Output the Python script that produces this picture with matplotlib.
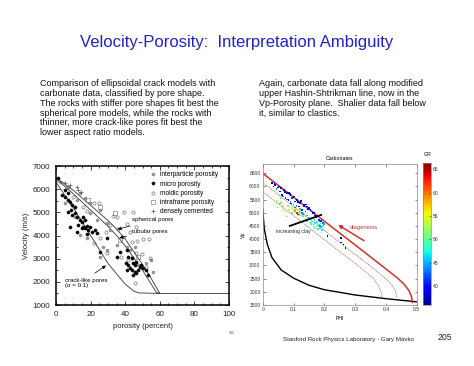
import matplotlib
matplotlib.use("Agg")
import matplotlib.pyplot as plt
import numpy as np
from matplotlib.ticker import MultipleLocator
from matplotlib.patches import FancyArrowPatch

plt.rcParams['font.family'] = ['Liberation Sans', 'DejaVu Sans']

# ---------------- Slide text ----------------
title_text = "Velocity-Porosity:  Interpretation Ambiguity"
left_para = ("Comparison of ellipsoidal crack models with\n"
             "carbonate data, classified by pore shape.\n"
             "The rocks with stiffer pore shapes fit best the\n"
             "spherical pore models, while the rocks with\n"
             "thinner, more crack-like pores fit best the\n"
             "lower aspect ratio models.")
right_para = ("Again, carbonate data fall along modified\n"
              "upper Hashin-Shtrikman line, now in the\n"
              "Vp-Porosity plane.  Shalier data fall below\n"
              "it, similar to clastics.")
footer_text = "Stanford Rock Physics Laboratory - Gary Mavko"
page_number = "205"

# ---------------- Left chart data (porosity %, velocity m/s) ----------------
sph_phi = [0, 10, 20, 30, 35, 40, 50, 55, 60, 80, 100]
sph_v = [6500, 5950, 5300, 4650, 4280, 3850, 2750, 2150, 1500, 1500, 1500]
tub_phi = [0, 10, 20, 30, 36, 40, 50, 55, 58, 60]
tub_v = [6450, 5800, 5100, 4400, 3920, 3550, 2500, 1900, 1550, 1500]
crk_phi = [0, 10, 20, 30, 40, 45, 48, 60]
crk_v = [6300, 5200, 4000, 2800, 1900, 1600, 1520, 1500]

micro_phi = [1.3, 3.3, 5.2, 7.1, 8.1, 9.0, 8.5, 7.1, 9.0, 11.0, 12.3, 13.8, 14.8, 15.8, 16.7,
             17.7, 18.7, 19.6, 20.6, 18.1, 22.5, 23.5, 15.8, 16.7, 14.8, 11.9, 12.9, 8.1, 25.4,
             29.2, 5.2, 7.1, 11.0,
             40.8, 41.7, 43.7, 44.6, 45.6, 46.5, 41.7, 42.7, 43.7, 45.6, 46.5, 47.5, 48.5, 49.4,
             50.4, 52.3, 53.3, 40.8, 40.4, 44.6, 36.9, 35.0]
micro_v = [6470, 5750, 5680, 5530, 5460, 5320, 5100, 5030, 4890, 4960, 4810, 4670, 4600, 4380, 4310,
           4410, 4240, 4350, 4170, 4060, 4240, 4090, 4810, 4670, 4310, 4170, 4450, 4380, 3300,
           3880, 5960, 5820, 5240,
           3370, 3090, 3010, 2800, 2730, 2870, 2730, 2580, 2510, 2440, 2370, 2510, 2650, 2730,
           2580, 2510, 2300, 2510, 2800, 2300, 3300, 3090]

moldic_phi = [21.9, 24.6, 33.1, 35.4, 39.2, 44.6, 41.2, 46.0, 42.7, 47.1, 50.4, 53.7, 29.2, 28.8,
              25.4, 22.1, 37.3, 45.6, 49.8, 54.2, 46.5, 36.0, 31.2, 15.8, 18.1, 10.0, 7.1, 41.7,
              52.3, 43.7]
moldic_v = [5420, 5390, 4840, 4810, 5030, 5030, 4500, 4350, 4170, 3780, 3830, 3830, 3230, 4170,
            3880, 3660, 3090, 1940, 3190, 3010, 3230, 4270, 4450, 5220, 5060, 5680, 6110, 2950,
            2630, 3730]

inter_phi = [1.3, 4.2, 6.2, 11.9, 13.8, 16.7, 19.6, 25.4, 29.2, 31.2, 27.3, 29.2, 25.4, 23.5,
             38.8, 40.8, 42.7, 45.6, 52.3, 56.2, 44.2, 47.5, 35.0, 17.7, 13.8, 11.0, 5.2, 19.6, 55.2]
inter_v = [6400, 6250, 6110, 5530, 5820, 5600, 5390, 5100, 4530, 4240, 3520, 3370, 3090, 4670,
           3950, 3520, 3370, 3520, 2800, 2440, 3090, 2730, 3590, 3880, 4020, 4810, 5390, 4960, 2940]

intra_phi = [25.4, 18.7, 34.0, 47.5, 36.9]
intra_v = [5210, 5530, 4990, 3090, 3810]

cem_phi = [2.3, 5.2, 8.1, 12.9, 14.4, 11.9]
cem_v = [6320, 6250, 6180, 5960, 5890, 6110]

# ---------------- Right chart data (PHI fraction, Vp m/s, GR) ----------------
red_phi = [0, 0.1, 0.2, 0.3, 0.40, 0.44, 0.46, 0.475, 0.482, 0.485, 0.486]
red_v = [6500, 5590, 4680, 3780, 2870, 2500, 2280, 2040, 1850, 1700, 1600]
dash1_phi = [0, 0.1, 0.2, 0.3, 0.36, 0.40, 0.42, 0.43, 0.434, 0.435]
dash1_v = [6150, 5240, 4330, 3420, 2880, 2500, 2250, 2050, 1900, 1780]
dash2_phi = [0, 0.1, 0.2, 0.3, 0.33, 0.36, 0.375, 0.383, 0.386, 0.387]
dash2_v = [5800, 4890, 3980, 3080, 2800, 2500, 2250, 2050, 1900, 1800]
blk_phi = [0, 0.005, 0.015, 0.03, 0.06, 0.1, 0.15, 0.2, 0.3, 0.4, 0.5]
blk_v = [5150, 4400, 3800, 3300, 2830, 2520, 2250, 2080, 1880, 1740, 1620]

carb_phi = [0.030, 0.041, 0.052, 0.057, 0.068, 0.079, 0.090, 0.101, 0.111, 0.122, 0.133, 0.144,
            0.155, 0.166, 0.176, 0.182, 0.063, 0.074, 0.084, 0.106, 0.117, 0.128, 0.139,
            0.035, 0.045, 0.095, 0.150, 0.160, 0.170, 0.190, 0.195, 0.060, 0.085, 0.125, 0.140,
            0.253, 0.253, 0.262, 0.269, 0.210,
            0.074, 0.079, 0.095, 0.106, 0.117, 0.139, 0.149, 0.160, 0.171, 0.176, 0.182, 0.166,
            0.155, 0.187, 0.193, 0.149, 0.165, 0.175, 0.185, 0.190, 0.170, 0.180, 0.158, 0.048,
            0.055, 0.065, 0.070, 0.130, 0.120, 0.110, 0.090, 0.100,
            0.101, 0.106, 0.111, 0.095, 0.122, 0.115, 0.125, 0.085, 0.140, 0.060, 0.045,
            0.038, 0.050, 0.072, 0.088, 0.098, 0.114, 0.135, 0.146, 0.162, 0.173, 0.186, 0.198,
            0.066, 0.078, 0.092, 0.104, 0.128, 0.143, 0.152, 0.168, 0.178, 0.196, 0.058, 0.082,
            0.108, 0.118, 0.132, 0.145, 0.156, 0.163, 0.188]
carb_vp = [6120, 6060, 5995, 5805, 5870, 5745, 5680, 5615, 5490, 5365, 5300, 5235,
           5110, 4985, 4860, 4730, 5680, 5555, 5490, 5425, 5235, 5110, 5045,
           6000, 5900, 5550, 5180, 5050, 4900, 4700, 4600, 5950, 5750, 5440, 5310,
           4030, 3870, 3800, 3670, 4120,
           5045, 4860, 4985, 5110, 4920, 4860, 4795, 4670, 4605, 4480, 4540, 4480,
           4605, 4415, 4350, 4480, 4550, 4650, 4500, 4450, 4400, 4380, 4560, 5200,
           5350, 5250, 5150, 4950, 5150, 5250, 5400, 5300,
           5110, 5045, 4985, 5175, 5045, 4950, 4900, 5100, 4750, 5400, 5450,
           6080, 5960, 5800, 5700, 5580, 5420, 5240, 5130, 4980, 4850, 4700, 4560,
           5620, 5500, 5350, 5200, 5000, 4900, 4820, 4720, 4620, 4500, 5550, 5250,
           5150, 5000, 4880, 4700, 4750, 4800, 4620]
carb_gr = [38, 37, 39, 40, 37, 38, 36, 38, 37, 39, 38, 37,
           38, 39, 40, 41, 40, 41, 40, 39, 40, 41, 42,
           42, 44, 42, 40, 41, 38, 40, 43, 36, 37, 38, 39,
           37, 38, 37, 38, 37,
           50, 52, 49, 47, 50, 47, 48, 49, 47, 50, 48, 51,
           46, 49, 47, 50, 45, 46, 44, 46, 48, 50, 49, 47,
           46, 53, 52, 45, 46, 44, 45, 47,
           57, 60, 62, 55, 58, 63, 56, 54, 55, 55, 54,
           39, 40, 38, 37, 39, 38, 40, 39, 38, 41, 42, 45,
           44, 43, 42, 43, 44, 45, 47, 46, 48, 48, 49, 51,
           53, 52, 49, 47, 48, 46, 50]

# ---------------- Figure ----------------
fig = plt.figure(figsize=(4.74, 3.66), dpi=100)
fig.patch.set_facecolor('white')

fig.text(0.5, 1 - 43 / 366, title_text, ha='center', va='center', fontsize=12, color='#2222c0')
fig.text(40 / 474, 1 - 79 / 366, left_para, ha='left', va='top', fontsize=6.5,
         color='#111111', linespacing=1.12)
fig.text(259 / 474, 1 - 79 / 366, right_para, ha='left', va='top', fontsize=6.5,
         color='#111111', linespacing=1.12)
fig.text(348 / 474, 1 - 340 / 366, footer_text, ha='center', va='center', fontsize=4.4,
         color='#222222')
fig.text(445 / 474, 1 - 338 / 366, page_number, ha='center', va='center', fontsize=6.2,
         color='#222222')

# ---------------- Left chart ----------------
axL = fig.add_axes([56 / 474, 1 - 305 / 366, 173 / 474, 139 / 366])
axL.plot(sph_phi, sph_v, color='#333333', lw=0.6)
axL.plot(tub_phi, tub_v, color='#333333', lw=0.6)
axL.plot(crk_phi, crk_v, color='#333333', lw=0.6)

axL.plot(inter_phi, inter_v, 'o', ms=2.2, mfc='#9a9a9a', mec='#777777', mew=0.3, ls='none',
         label='interparticle porosity')
axL.plot(micro_phi, micro_v, 'o', ms=2.3, mfc='black', mec='black', mew=0.3, ls='none',
         label='micro porosity')
axL.plot(moldic_phi, moldic_v, 'o', ms=2.3, mfc='none', mec='#555555', mew=0.4, ls='none',
         label='moldic porosity')
axL.plot(intra_phi, intra_v, 's', ms=2.2, mfc='none', mec='#666666', mew=0.4, ls='none',
         label='intraframe porosity')
axL.plot(cem_phi, cem_v, '+', ms=2.6, color='#555555', mew=0.5, ls='none',
         label='densely cemented')

axL.set_xlim(0, 100)
axL.set_ylim(1000, 7000)
axL.xaxis.set_major_locator(MultipleLocator(20))
axL.xaxis.set_minor_locator(MultipleLocator(5))
axL.yaxis.set_major_locator(MultipleLocator(1000))
axL.yaxis.set_minor_locator(MultipleLocator(500))
axL.tick_params(which='both', direction='in', top=True, right=True, labelsize=5.8, pad=4,
                width=0.6, colors='#222222')
axL.tick_params(which='major', length=3)
axL.tick_params(which='minor', length=1.6)
for s in axL.spines.values():
    s.set_linewidth(1.1)
axL.set_xlabel('porosity (percent)', fontsize=5.5, labelpad=4, color='#222222')
axL.set_ylabel('Velocity (m/s)', fontsize=5.5, labelpad=2, color='#222222')
leg = axL.legend(loc='upper left', bbox_to_anchor=(0.52, 0.99), frameon=False, fontsize=4.7,
                 handlelength=1.0, handletextpad=0.6, labelspacing=0.35, borderaxespad=0.2)

ann = dict(arrowstyle='-|>', color='black', lw=0.5, mutation_scale=5)
axL.annotate('spherical pores', xy=(34.1, 4237), xytext=(43.8, 4670), fontsize=4.4,
             va='center', ha='left', arrowprops=ann)
axL.annotate('tubular pores', xy=(35.1, 3880), xytext=(43.9, 4164), fontsize=4.4,
             va='center', ha='left', arrowprops=ann)
axL.annotate('crack-like pores\n(\u03b1 = 0.1)', xy=(30.2, 2770), xytext=(5.2, 1950), fontsize=4.4,
             va='center', ha='left', linespacing=1.2,
             arrowprops=dict(arrowstyle='-|>', color='black', lw=0.5, mutation_scale=5,
                             relpos=(0.55, 1.0)))
fig.text(232 / 474, 1 - 333 / 366, 'G14', fontsize=2.2, ha='center', va='center', color='#444444')

# ---------------- Right chart ----------------
axR = fig.add_axes([262.7 / 474, 1 - 305 / 366, 154 / 474, 141 / 366])
axR.plot(blk_phi, blk_v, color='black', lw=1.0)
axR.plot(dash2_phi, dash2_v, color='#b06060', lw=0.5, ls=(0, (2, 1)))
axR.plot(dash1_phi, dash1_v, color='#b06060', lw=0.5, ls=(0, (2, 1)))
axR.plot(red_phi, red_v, color='#c8342c', lw=1.1)
sc = axR.scatter(carb_phi, carb_vp, c=carb_gr, cmap='jet', vmin=36, vmax=66.3, s=1.6,
                 marker='s', linewidths=0, zorder=3)
axR.plot([0.088, 0.19], [4500, 4920], color='black', lw=1.3, zorder=4)
axR.text(0.10, 4280, 'increasing clay', fontsize=3.7, ha='center', va='center', color='#222222')
arr = FancyArrowPatch((0.329, 3940), (0.245, 4540), arrowstyle='-|>', mutation_scale=5,
                      color='#c8342c', lw=1.1, shrinkA=0, shrinkB=0, zorder=4)
axR.add_patch(arr)
axR.text(0.329, 4450, 'diagenesis', fontsize=4.2, ha='center', va='center', color='#c8342c')
axR.set_xlim(0, 0.5)
axR.set_ylim(1500, 6850)
axR.set_xticks([0, 0.1, 0.2, 0.3, 0.4, 0.5])
axR.set_xticklabels(['0', '0.1', '0.2', '0.3', '0.4', '0.5'])
axR.set_yticks(np.arange(1500, 6501, 500))
axR.tick_params(direction='in', top=True, right=True, labelsize=3.6, length=1.8, width=0.4,
                pad=1.5, colors='#333333')
for s in axR.spines.values():
    s.set_linewidth(0.5)
    s.set_color('#8a8a8a')
axR.set_xlabel('PHI', fontsize=3.8, labelpad=2.5)
axR.set_ylabel('Vp', fontsize=3.8, labelpad=2)
axR.set_title('Carbonates', fontsize=3.8, pad=3)

cax = fig.add_axes([423.3 / 474, 1 - 305 / 366, 7.4 / 474, 142 / 366])
cb = fig.colorbar(sc, cax=cax)
cb.set_ticks([40, 45, 50, 55, 60, 65])
cb.ax.tick_params(labelsize=3.6, length=1.5, width=0.4, direction='in', pad=1.5, colors='#333333')
cb.outline.set_linewidth(0.5)
cb.outline.set_edgecolor('#8a8a8a')
fig.text(428 / 474, 1 - 155 / 366, 'GR', fontsize=3.8, ha='center', va='center')

fig.savefig('out.png', dpi=100)
